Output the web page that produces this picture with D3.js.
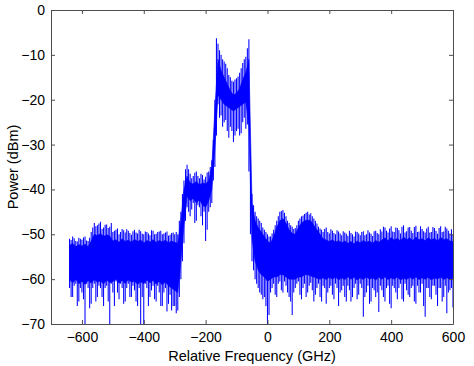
<!DOCTYPE html>
<html><head><meta charset="utf-8">
<script src="https://cdn.jsdelivr.net/npm/d3@7"></script>
<style>
body{margin:0;background:#fff;}
text{font-family:"Liberation Sans",Arial,sans-serif;}
</style></head>
<body><svg id="c" width="474" height="366"></svg>
<script>
// Spectrum in 10 GHz bins (-640 ... 600 GHz)
const freqStart = -640, freqStep = 10;
// spike extremes of the trace at each bin frequency
const hiVals = [
-51,-50.5,-51.5,-50.8,-51.2,-50.5,-51.5,-49.5,-47.5,-48,
-47.2,-48.5,-47.8,-48.3,-49.5,-49,-50,-48.8,-49.6,-49.2,
-50.1,-49,-49.8,-49.3,-50,-49.5,-50.2,-49.2,-49.9,-49.4,
-50,-49.6,-50.3,-49.7,-50,
-50,-45,-38,-34.5,-36.5,-37,-36,-37.5,-36.8,-37.2,-36,-33.5,-20,
-7.5,-10,-11.5,-13,-15,-16,-15.2,-14,-11.8,-10.4,-6.5,
-41,-45,-46.5,-47.5,-49,-50,-50.5,-49,-47,-45,
-44.6,-46,-47.5,-48.3,-48.6,-47,-46,-45.5,-45,-45.3,
-46.5,-47.6,-48.7,-49.5,-48.5,-49.8,-49.2,-50,-49.4,-50.2,
-49.6,-50.3,-49.7,-50.5,-49.5,-50.2,-49.3,-50,-49.6,-50.4,
-49.2,-50,-49.4,-48.5,-49.6,-48.2,-49.5,-48.6,-49.8,-48,
-49.3,-48.4,-49.7,-48.1,-49.4,-48.8,-49.6,-48.3,-49.5,-48.6,
-49.9,-48.2,-49.4,-48.7,-49.8,-50
];
const loVals = [
-62,-64,-61,-65,-63,-70,-62,-65.5,-61,-64,
-62,-66,-61.5,-70,-63,-60.5,-64.5,-62,-65,-61,
-64,-62.5,-66,-70,-70,-62,-64,-61.5,-65,-63,
-66,-62,-65.5,-67,-66,
-67,-60,-52,-44,-46,-43,-47,-44,-48,-51.5,-45,-43,-35,
-21,-23.5,-25,-27,-26,-29.4,-27,-28,-25,-26.5,-36,
-56,-60,-62,-63.5,-64,-70,-63,-61,-64,-60.5,
-63,-61.5,-64,-68,-62,-60.5,-64.5,-61,-63,-60.8,
-65,-62,-64,-61.5,-65.5,-62,-63.5,-61,-66,-62.5,
-64,-61.5,-65,-62,-64.5,-61,-68.4,-63,-65.5,-62,
-64,-67.3,-62.5,-65,-61.5,-66.5,-62,-64.5,-61,-65,
-62.5,-64,-61.5,-65.5,-63,-61,-68.4,-62,-64.5,-61.5,
-66,-62,-64,-67.6,-62.5,-66.3
];
// spike extremes half a bin later (f + 5 GHz)
const hiMid = [
-51.3,-50.9,-51.6,-51,-50.7,-51.4,-50.8,-48.5,-48.2,-47.6,
-48.8,-47.9,-48.6,-47.5,-49.2,-48.7,-49.5,-49.1,-48.9,-49.7,
-49.3,-49.6,-49,-49.9,-49.4,-49.8,-49.1,-50,-49.5,-49.2,
-49.8,-49.4,-50.1,-49.6,-49.5,
-47,-41,-35.5,-35.5,-37.5,-36.3,-37,-36.5,-37.8,-36.2,-35,-29,-6.3,
-9,-11,-12,-14.5,-15.8,-15.5,-14.8,-13,-11,-8.5,-34,
-43.5,-46,-47,-48.5,-49.5,-50.5,-49.8,-48,-46,-44.8,
-45.2,-47,-48,-48.8,-48,-46.5,-45.8,-45.2,-45.6,-46,
-47,-48.3,-49,-48.8,-49.5,-48.9,-49.7,-49.1,-49.8,-49.3,
-49.9,-49.2,-50,-49.4,-49.8,-49.5,-50.2,-49.1,-49.9,-49.3,
-49.7,-48.9,-48.3,-49.2,-48.7,-49.4,-48.5,-49.1,-48.3,-49.6,
-48.5,-49.2,-48.4,-49.5,-48.2,-49.3,-48.7,-49.6,-48.4,-49.2,
-48.6,-49.5,-48.3,-49.2,-48.9,-50
];
const loMid = [
-64,-61.5,-66,-62,-64.5,-61,-66.5,-62,-65,-61.5,
-64,-62,-65,-61,-66,-63,-61,-65.5,-62,-64,
-61.5,-65,-62,-64,-61,-66,-62.5,-64.5,-61.5,-66,
-63,-67.2,-63.5,-66,-67.6,
-64,-56,-47,-45,-44.5,-47.5,-43.5,-46,-45,-49,-44,-38,-28,
-24,-26,-24.5,-28.5,-27,-28,-26.5,-27.5,-24,-25.5,-50,
-58,-61,-63,-64.5,-66,-68,-62,-63.5,-61,-62.5,
-60.5,-63,-65,-63,-61,-63.5,-62,-64,-61.5,-62.5,
-63.5,-61,-65,-62,-63,-61.5,-64.5,-62,-63,-61.5,
-65,-62.5,-64,-61,-63.5,-62,-64,-61.5,-65,-62.5,
-63,-61.5,-64,-62,-65.5,-61.5,-63,-62,-64.5,-61,
-63.5,-62,-65,-61.5,-63,-66,-62,-64,-61.5,-63.5,
-62,-65,-61.5,-63,-62,-64
];
// dense (solid) core of the trace at each bin frequency
const coreHi = [
-52.5,-52,-52.8,-52.3,-52.6,-52.2,-52.7,-51.5,
-50,-50.3,-49.8,-50.5,-50.1,-50.4,
-51.5,-51.2,-51.8,-51,-51.6,-51.3,-51.8,-51.1,-51.6,-51.3,-51.9,-51.4,-51.7,-51.2,-51.8,-51.4,-51.7,-51.3,-51.9,-51.5,-51.8,
-52,-47,-40,-37,-38.5,-38.8,-38.2,-39,-38.5,-38.8,-38,-35,-22,
-11,-13.5,-15,-16.5,-18,-19,-18.5,-17.5,-15.5,-14,-11,
-43,-47,-48.5,-49.5,-50.5,-51.5,-52,-50.5,-48.5,-47,
-46.5,-47.5,-49,-49.8,-50,-48.5,-47.5,-47,-46.8,-47,
-48,-49,-50,-51,-51.3,-51.6,-51.2,-51.8,-51.4,-51.9,
-51.5,-52,-51.6,-52.1,-51.5,-51.9,-51.4,-51.8,-51.5,-52,
-51.4,-51.8,-51.3,-50.8,-51.4,-50.7,-51.3,-50.9,-51.5,-50.6,
-51.2,-50.8,-51.4,-50.6,-51.2,-51,-51.4,-50.8,-51.3,-50.9,
-51.5,-50.7,-51.2,-51,-51.5,-51.6
];
const coreLo = [
-60.2,-60.8,-60,-61,-60.5,-61.2,-60.3,-60.9,-60.1,-60.7,
-60.4,-61.1,-60.2,-60.8,-60.5,-60,-60.9,-60.3,-61,-60.1,
-60.7,-60.4,-61.2,-60.6,-61,-60.2,-60.8,-60.3,-61.1,-60.5,
-61.3,-60.6,-61.5,-62,-62.5,
-63,-56,-48,-41.5,-42.5,-42,-43,-42.3,-43.5,-44,-42.5,-40,-31,
-19,-20,-21,-21.5,-22,-22.5,-22,-21.5,-21,-20.5,-26,
-51,-56,-58,-59,-59.5,-60.5,-60,-59.5,-59.5,-59,
-59,-59.5,-60,-60,-60,-59.5,-59.5,-59,-59,-59.3,
-59.5,-59.8,-60,-59.7,-60.1,-59.6,-60,-59.5,-60.2,-59.7,
-60.1,-59.5,-60,-59.6,-60.2,-59.7,-60.1,-59.5,-60,-59.7,
-60.2,-59.6,-60,-59.5,-60.1,-59.7,-60,-59.5,-60.2,-59.8,
-60.1,-59.6,-60,-59.5,-60.1,-59.7,-60,-59.6,-60.2,-59.7,
-60,-59.5,-60.1,-59.7,-60,-59.8
];
const xTicks = [-600,-400,-200,0,200,400,600];
const yTicks = [0,-10,-20,-30,-40,-50,-60,-70];
const xDomain = [-700, 600], yDomain = [-70, 0];

const svg = d3.select("#c");
const m = {l:51, r:453, t:10, b:324};
const x = d3.scaleLinear().domain(xDomain).range([m.l, m.r]);
const y = d3.scaleLinear().domain(yDomain).range([m.b, m.t]);

svg.append("defs").append("clipPath").attr("id","clip")
  .append("rect").attr("x",m.l).attr("y",m.t).attr("width",m.r-m.l).attr("height",m.b-m.t);

const bins = hiVals.map((h,i)=>({f: freqStart + i*freqStep, hi:h, lo:loVals[i], ch:coreHi[i], cl:coreLo[i]}));
const spikes = [];
hiVals.forEach((h,i)=>{
  const f = freqStart + i*freqStep;
  spikes.push({f:f, hi:h, lo:loVals[i]});
  if (f + freqStep/2 <= 600) spikes.push({f:f + freqStep/2, hi:hiMid[i], lo:loMid[i]});
});
const plot = svg.append("g").attr("clip-path","url(#clip)");
const area = d3.area().x(d=>x(d.f)).y0(d=>y(d.cl)).y1(d=>y(d.ch));
plot.append("path").attr("d", area(bins)).attr("fill","#0000ff")
  .attr("stroke","#0000ff").attr("stroke-width",0.6);
plot.selectAll("line.sp").data(spikes).join("line").attr("class","sp")
  .attr("x1",d=>x(d.f)).attr("x2",d=>x(d.f))
  .attr("y1",d=>y(d.hi)).attr("y2",d=>y(d.lo))
  .attr("stroke","#0000ff").attr("stroke-width",1.05);

const axCol = "#4d4d4d";
const fs = 14;
const xa = d3.axisBottom(x).tickValues(xTicks).tickSizeInner(-4).tickSizeOuter(0).tickPadding(8);
const xt = d3.axisTop(x).tickValues(xTicks).tickSizeInner(-4).tickSizeOuter(0).tickFormat("");
const ya = d3.axisLeft(y).tickValues(yTicks).tickSizeInner(-4).tickSizeOuter(0).tickPadding(6);
const yr = d3.axisRight(y).tickValues(yTicks).tickSizeInner(-4).tickSizeOuter(0).tickFormat("");
function style(g){
  g.selectAll("path").attr("stroke",axCol);
  g.selectAll("line").attr("stroke",axCol);
  g.selectAll("text").attr("fill","#000").style("font-size",fs+"px").style("font-family","'Liberation Sans',Arial,sans-serif");
}
svg.append("g").attr("transform",`translate(0,${m.b})`).call(xa).call(style);
svg.append("g").attr("transform",`translate(0,${m.t})`).call(xt).call(style);
svg.append("g").attr("transform",`translate(${m.l},0)`).call(ya).call(style);
svg.append("g").attr("transform",`translate(${m.r},0)`).call(yr).call(style);

svg.append("text").attr("x",(m.l+m.r)/2).attr("y",361).attr("text-anchor","middle")
  .style("font-size","14.5px").text("Relative Frequency (GHz)");
svg.append("text").attr("transform",`translate(18,${(m.t+m.b)/2}) rotate(-90)`).attr("text-anchor","middle")
  .style("font-size","14.5px").text("Power (dBm)");
</script></body></html>
